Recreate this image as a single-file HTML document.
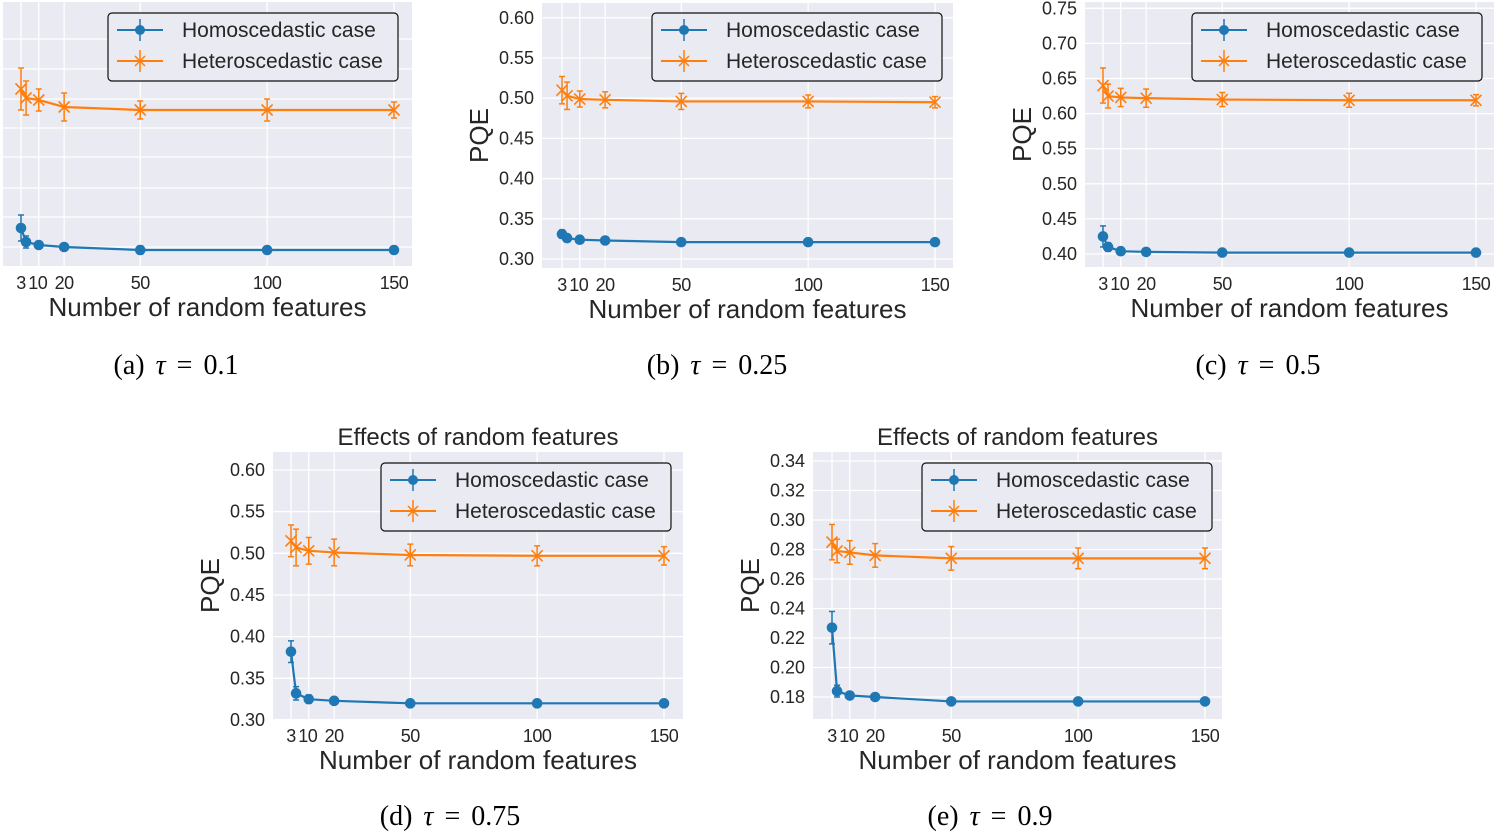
<!DOCTYPE html>
<html><head><meta charset="utf-8"><style>
body{margin:0;background:#fff;width:1498px;height:832px;overflow:hidden}
svg{display:block}
text{font-family:"Liberation Sans",sans-serif;fill:#262626}
.cap{font-family:"Liberation Serif",serif;font-size:28px;fill:#000}
</style></head><body>
<svg id="s" width="1498" height="832" xmlns="http://www.w3.org/2000/svg"></svg>
<script>
const xs=[3,5,10,20,50,100,150];
const P=[
 {L:3,R:412,T:2,B:266,x3:21,x150:394,
  px:{o:[89,98,100,107,110,110,110],b:[228,242,245,247,250,250,250]},
  eo:[21,17,11,14,9,11,8],eb:[13,6,3,3,4,3,3],
  grid:[39,69,99,128,157,188,217,247],leg:[108,13],ylab:false,title:false},
 {L:542,R:953,T:3,B:268,x3:562,x150:935,y0:0.30,y0p:259,step:0.05,sp:40.2,
  ticks:[0.30,0.35,0.40,0.45,0.50,0.55,0.60],
  o:[0.51,0.503,0.499,0.498,0.496,0.496,0.495],b:[0.331,0.326,0.324,0.323,0.321,0.321,0.321],
  eo:[0.017,0.017,0.01,0.01,0.01,0.008,0.007],eb:[0.005,0.003,0.002,0.002,0.002,0.002,0.002],leg:[652,13],ylab:true},
 {L:1085,R:1494,T:2,B:267,x3:1103,x150:1476,y0:0.40,y0p:254,step:0.05,sp:35.1,
  ticks:[0.40,0.45,0.50,0.55,0.60,0.65,0.70,0.75],
  o:[0.64,0.625,0.623,0.622,0.62,0.619,0.619],b:[0.425,0.41,0.404,0.403,0.402,0.402,0.402],
  eo:[0.025,0.017,0.013,0.013,0.01,0.01,0.008],eb:[0.015,0.006,0.003,0.002,0.002,0.002,0.002],leg:[1192,13],ylab:true},
 {L:273,R:683,T:452,B:719,x3:291,x150:664,y0:0.30,y0p:720,step:0.05,sp:41.67,
  ticks:[0.30,0.35,0.40,0.45,0.50,0.55,0.60],
  o:[0.515,0.507,0.503,0.501,0.498,0.497,0.497],b:[0.382,0.332,0.325,0.323,0.32,0.32,0.32],
  eo:[0.019,0.022,0.016,0.016,0.013,0.012,0.011],eb:[0.013,0.008,0.005,0.002,0.002,0.002,0.002],leg:[381,463],ylab:true,title:true},
 {L:813,R:1222,T:452,B:719,x3:832,x150:1205,y0:0.18,y0p:697,step:0.02,sp:29.5,
  ticks:[0.18,0.20,0.22,0.24,0.26,0.28,0.30,0.32,0.34],
  o:[0.285,0.279,0.278,0.276,0.274,0.274,0.274],b:[0.227,0.184,0.181,0.180,0.177,0.177,0.177],
  eo:[0.012,0.008,0.008,0.008,0.008,0.007,0.007],eb:[0.011,0.004,0.002,0.002,0.002,0.002,0.002],leg:[922,463],ylab:true,title:true}
];
let h='';
const BL='#1f77b4',OR='#ff7f0e';
for(const p of P){
 const X=v=>p.x3+(v-3)*(p.x150-p.x3)/147;
 let Y,yo,yb,eo,eb;
 if(p.px){yo=p.px.o;yb=p.px.b;eo=p.eo;eb=p.eb;}
 else{Y=v=>p.y0p-(v-p.y0)/p.step*p.sp;yo=p.o.map(Y);yb=p.b.map(Y);
  eo=p.eo.map(e=>e/p.step*p.sp);eb=p.eb.map(e=>e/p.step*p.sp);}
 h+=`<rect x="${p.L}" y="${p.T}" width="${p.R-p.L}" height="${p.B-p.T}" fill="#eaeaf2"/>`;
 const gy=p.grid?p.grid:p.ticks.map(Y);
 for(const g of gy) if(g>=p.T&&g<=p.B) h+=`<line x1="${p.L}" x2="${p.R}" y1="${g}" y2="${g}" stroke="#fff" stroke-width="1.3"/>`;
 for(const v of [3,10,20,50,100,150]) h+=`<line x1="${X(v)}" x2="${X(v)}" y1="${p.T}" y2="${p.B}" stroke="#fff" stroke-width="1.3"/>`;
 if(!p.px) p.ticks.forEach((t,i)=>{const y=Y(t);h+=`<text x="${p.L-8}" y="${y+6}" font-size="18" text-anchor="end">${t.toFixed(2)}</text>`;});
 for(const v of [3,10,20,50,100,150]) h+=`<text x="${X(v)+(v==10?-1:0)}" y="${p.B+23}" font-size="18" text-anchor="middle" letter-spacing="-0.5">${v}</text>`;
 h+=`<text x="${(p.L+p.R)/2}" y="${p.B+50}" font-size="26" text-anchor="middle">Number of random features</text>`;
 if(p.ylab) h+=`<text transform="translate(${p.L-54},${(p.T+p.B)/2}) rotate(-90)" font-size="26" text-anchor="middle">PQE</text>`;
 if(p.title) h+=`<text x="${(p.L+p.R)/2}" y="${p.T-7}" font-size="24" text-anchor="middle">Effects of random features</text>`;
 const ser=(ys,es,c,m)=>{
  h+=`<polyline fill="none" stroke="${c}" stroke-width="2.2" points="${xs.map((v,i)=>X(v)+','+ys[i]).join(' ')}"/>`;
  xs.forEach((v,i)=>{const x=X(v),y=ys[i],e=es[i];
   h+=`<line x1="${x}" x2="${x}" y1="${y-e}" y2="${y+e}" stroke="${c}" stroke-width="1.5"/><line x1="${x-3}" x2="${x+3}" y1="${y-e}" y2="${y-e}" stroke="${c}" stroke-width="1.5"/><line x1="${x-3}" x2="${x+3}" y1="${y+e}" y2="${y+e}" stroke="${c}" stroke-width="1.5"/>`;
   if(m=='o') h+=`<circle cx="${x}" cy="${y}" r="5.3" fill="${c}"/>`;
   else h+=`<path d="M${x-5.5} ${y-5.5}L${x+5.5} ${y+5.5}M${x-5.5} ${y+5.5}L${x+5.5} ${y-5.5}" stroke="${c}" stroke-width="1.6"/>`;});
 };
 ser(yo,eo,OR,'x');ser(yb,eb,BL,'o');
 const [lx,ly]=p.leg;
 h+=`<rect x="${lx}" y="${ly}" width="290" height="68" rx="4" fill="#eaeaf2" stroke="#111" stroke-width="1.2"/>`;
 const r1=ly+17,r2=ly+48;
 h+=`<line x1="${lx+9}" x2="${lx+55}" y1="${r1}" y2="${r1}" stroke="${BL}" stroke-width="2"/><line x1="${lx+32}" x2="${lx+32}" y1="${r1-11}" y2="${r1+11}" stroke="${BL}" stroke-width="1.5"/><circle cx="${lx+32}" cy="${r1}" r="5" fill="${BL}"/>`;
 h+=`<line x1="${lx+9}" x2="${lx+55}" y1="${r2}" y2="${r2}" stroke="${OR}" stroke-width="2"/><line x1="${lx+32}" x2="${lx+32}" y1="${r2-11}" y2="${r2+11}" stroke="${OR}" stroke-width="1.5"/><path d="M${lx+27} ${r2-5}L${lx+37} ${r2+5}M${lx+27} ${r2+5}L${lx+37} ${r2-5}" stroke="${OR}" stroke-width="1.5"/>`;
 h+=`<text x="${lx+74}" y="${r1+7}" font-size="21">Homoscedastic case</text><text x="${lx+74}" y="${r2+7}" font-size="21">Heteroscedastic case</text>`;
}
const caps=[[176,374,'(a)','0.1'],[717,374,'(b)','0.25'],[1258,374,'(c)','0.5'],[450,825,'(d)','0.75'],[990,825,'(e)','0.9']];
for(const [x,y,a,v] of caps) h+=`<text class="cap" x="${x}" y="${y}" text-anchor="middle" word-spacing="4">${a} <tspan font-style="italic">τ</tspan> = ${v}</text>`;
document.getElementById('s').innerHTML=h;
</script>
</body></html>
